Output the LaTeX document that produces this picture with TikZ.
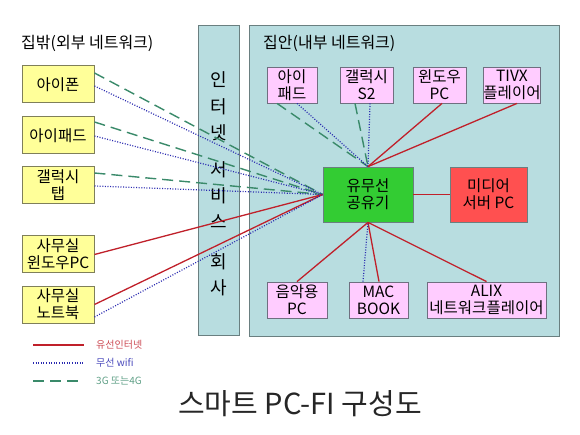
\documentclass[tikz,border=0pt]{standalone}
\usepackage{fontspec}
\setmainfont{Noto Sans CJK KR}
\begin{document}
\begin{tikzpicture}[x=1pt,y=-1pt,
  every node/.style={inner sep=0pt, align=center},
  boxfont/.style={font=\fontsize{15.5}{17}\selectfont},
  ybox/.style={draw=yboxline, fill=yboxfill, line width=1pt, boxfont, minimum width=72pt, minimum height=37pt},
  pbox/.style={draw=pboxline, fill=pboxfill, line width=0.8pt, boxfont, minimum height=36pt},
  panel/.style={draw=panelline, fill=panelfill, line width=0.8pt},
  lan/.style={draw=lancol, line width=1.3pt},
  wifi/.style={draw=wificol, line width=1.2pt, dash pattern=on 1pt off 1.6pt},
  mob/.style={draw=mobcol, line width=1.4pt, dash pattern=on 11pt off 6pt},
  legtext/.style={anchor=west, font=\fontsize{10}{11}\selectfont},
]
\definecolor{yboxfill}{HTML}{FFFF99}
\definecolor{yboxline}{HTML}{7F7F5A}
\definecolor{pboxfill}{HTML}{FFCCFF}
\definecolor{pboxline}{HTML}{6F6F80}
\definecolor{panelfill}{HTML}{B8DDE0}
\definecolor{panelline}{HTML}{6A7F80}
\definecolor{greenfill}{HTML}{33CC33}
\definecolor{redfill}{HTML}{FF5050}
\definecolor{lancol}{HTML}{C0202A}
\definecolor{wificol}{HTML}{2A2AB0}
\definecolor{mobcol}{HTML}{3A8A6A}
\useasboundingbox (0,0) rectangle (580,435);
\fill[white] (0,0) rectangle (580,435);

% panels
\draw[panel] (198,25) rectangle (239,335);
\draw[panel] (249,25) rectangle (559,336);

% titles
\node[anchor=west, font=\fontsize{16}{17}\selectfont] (outtitle) at (21,43) {집밖(외부 네트워크)};
\node[anchor=west, font=\fontsize{16}{17}\selectfont] (intitle) at (263,43) {집안(내부 네트워크)};

% internet company column
\foreach \c/\yy [count=\i] in {인/80,터/107,넷/133,서/170,비/196,스/222,회/262,사/288}
  \node[font=\fontsize{18}{18}\selectfont] (isp\i) at (218.5,\yy) {\c};

% outside devices
\node[ybox] (iphone) at (58,84.5) {아이폰};
\node[ybox] (ipad) at (58,135.5) {아이패드};
\node[ybox] (gtab) at (58,185.5) {갤럭시\\탭};
\node[ybox] (offpc) at (58,254.5) {사무실\\윈도우PC};
\node[ybox] (offnb) at (58,304.5) {사무실\\노트북};

% inside devices
\node[pbox, minimum width=50pt] (ipad2) at (292,85) {아이\\패드};
\node[pbox, minimum width=53pt] (gs2) at (366.5,85) {갤럭시\\S2};
\node[pbox, minimum width=53pt] (winpc) at (439.5,85) {윈도우\\PC};
\node[pbox, minimum width=52pt] (tivx) at (512,85) {TIVX\\플레이어};

\node[draw=panelline, fill=greenfill, line width=0.8pt, boxfont, minimum width=90pt, minimum height=55pt] (router) at (368,194.5) {유무선\\공유기};
\node[draw=panelline, fill=redfill, line width=0.8pt, boxfont, minimum width=77pt, minimum height=55pt] (media) at (488.5,194.5) {미디어\\서버 PC};

\node[pbox, minimum width=60pt] (music) at (297,300) {음악용\\PC};
\node[pbox, minimum width=59pt] (mac) at (378.5,300) {MAC\\BOOK};
\node[pbox, minimum width=119pt] (alix) at (486.5,300) {ALIX\\네트워크플레이어};

% connectors outside
\draw[mob] ([yshift=11.5pt]iphone.east) -- (router.west);
\draw[wifi] ([yshift=-1.5pt]iphone.east) -- (router.west);
\draw[mob] ([yshift=13.5pt]ipad.east) -- (router.west);
\draw[wifi] ([yshift=-0.5pt]ipad.east) -- (router.west);
\draw[mob] ([yshift=12.5pt]gtab.east) -- (router.west);
\draw[wifi] ([yshift=-0.5pt]gtab.east) -- (router.west);
\draw[lan] (offpc.east) -- (router.west);
\draw[lan] (offnb.east) -- (router.west);
\draw[wifi] ([yshift=-12.5pt]offnb.east) -- (router.west);

% connectors inside top
\draw[mob] ([xshift=-15pt]ipad2.south) -- (router.north);
\draw[wifi] ([xshift=5pt]ipad2.south) -- (router.north);
\draw[mob] ([xshift=-11.5pt]gs2.south) -- (router.north);
\draw[wifi] ([xshift=3.5pt]gs2.south) -- (router.north);
\draw[lan] ([xshift=2.5pt]winpc.south) -- (router.north);
\draw[lan] ([xshift=5pt]tivx.south) -- (router.north);

% router to media
\draw[lan] (router.east) -- (media.west);

% bottom
\draw[lan] (music.north) -- (router.south);
\draw[lan] ([xshift=0.5pt]mac.north) -- (router.south);
\draw[wifi] ([xshift=-15.5pt]mac.north) -- (router.south);
\draw[lan] (alix.north) -- (router.south);

% legend
\coordinate (l1a) at (33,345); \coordinate (l1b) at (84,345);
\coordinate (l2a) at (33,363); \coordinate (l2b) at (84,363);
\coordinate (l3a) at (33,381); \coordinate (l3b) at (84,381);
\draw[lan] (l1a) -- (l1b);
\draw[wifi] (l2a) -- (l2b);
\draw[mob] (l3a) -- (l3b);
\node[legtext, text=lancol!80] (leg1) at (96,345) {유선인터넷};
\node[legtext, text=wificol!85] (leg2) at (96,363) {무선 wifi};
\node[legtext, text=mobcol!80] (leg3) at (96,381) {3G 또는4G};

% main title
\node[font=\fontsize{29}{30}\selectfont, text=black!85] (maintitle) at (300,404) {스마트 PC-FI 구성도};
\end{tikzpicture}
\end{document}
